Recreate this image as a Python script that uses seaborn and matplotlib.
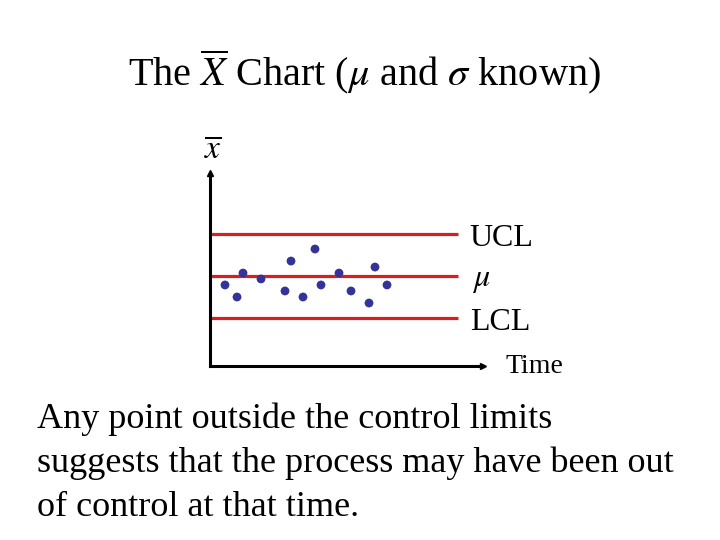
import seaborn as sns
import matplotlib.pyplot as plt
import pandas as pd
import numpy as np

# -------------------------------
# Data
# -------------------------------
times = [2.5, 4.5, 5.5, 8.5, 12.5, 13.5, 15.5, 17.5, 18.5, 21.5, 23.5, 26.5, 27.5, 29.5]
xbar = [-0.64, -1.5, 0.21, -0.21, -1.07, 1.07, -1.5, 1.93, -0.64, 0.21, -1.07, -1.93, 0.64, -0.64]
limit_names = ["UCL", "mu", "LCL"]
limit_values = [3.0, 0.0, -3.0]
caption_lines = [
    "Any point outside the control limits",
    "suggests that the process may have been out",
    "of control at that time.",
]

data = pd.DataFrame({"Time": times, "Xbar": xbar})

# -------------------------------
# Style
# -------------------------------
sns.set_style("white")
plt.rcParams["font.family"] = ["Liberation Serif", "DejaVu Serif"]
plt.rcParams["mathtext.fontset"] = "stix"
plt.rcParams["text.color"] = "black"

fig = plt.figure(figsize=(7.2, 5.4), dpi=100)
ax = fig.add_axes([210 / 720, 1 - 366 / 540, 273 / 720, 193 / 540])

# control limit lines
ax.hlines(limit_values, 0, 41.3, colors="#d81e1e", linewidth=2.3, zorder=1)

# sample means
sns.scatterplot(data=data, x="Time", y="Xbar", color="#333399", s=40,
                edgecolor="none", ax=ax, zorder=3)

ax.set_xlim(0, 45.5)
ax.set_ylim(-6.43, 7.36)
ax.set_xticks([])
ax.set_yticks([])
ax.set_xlabel("")
ax.set_ylabel("")
for side in ["top", "right"]:
    ax.spines[side].set_visible(False)
for side in ["left", "bottom"]:
    ax.spines[side].set_linewidth(2.2)
    ax.spines[side].set_color("black")

# arrow heads on the axes
ax.plot(1, 0, ">", color="black", markersize=5, transform=ax.transAxes, clip_on=False)
ax.plot(0, 1, "^", color="black", markersize=5, transform=ax.transAxes, clip_on=False)

# limit labels (nudged a little below the lines, as in the original)
label_text = {"UCL": "UCL", "mu": r"$\mu$", "LCL": "LCL"}
label_dx = {"UCL": 0, "mu": 0.3, "LCL": 0}
for name, val in zip(limit_names, limit_values):
    ax.text(43.3 + label_dx[name], val - 0.35, label_text[name], fontsize=23,
            va="center", ha="left", clip_on=False)

ax.text(49.2, -6.45, "Time", fontsize=20, va="center", ha="left", clip_on=False)

# axis name and title
fig.text(213 / 720, 1 - 150 / 540, r"$\overline{x}$", fontsize=24, ha="center", va="center")
fig.text(128 / 720, 1 - 72 / 540,
         r"The $\overline{X}$ Chart ($\mu$ and $\sigma$ known)",
         fontsize=29, ha="left", va="center")

# caption
for i, line in enumerate(caption_lines):
    fig.text(37 / 720, 1 - (419 + 44 * i) / 540, line,
             fontsize=26, ha="left", va="center")

plt.savefig("out.png", dpi=100)
plt.close()
